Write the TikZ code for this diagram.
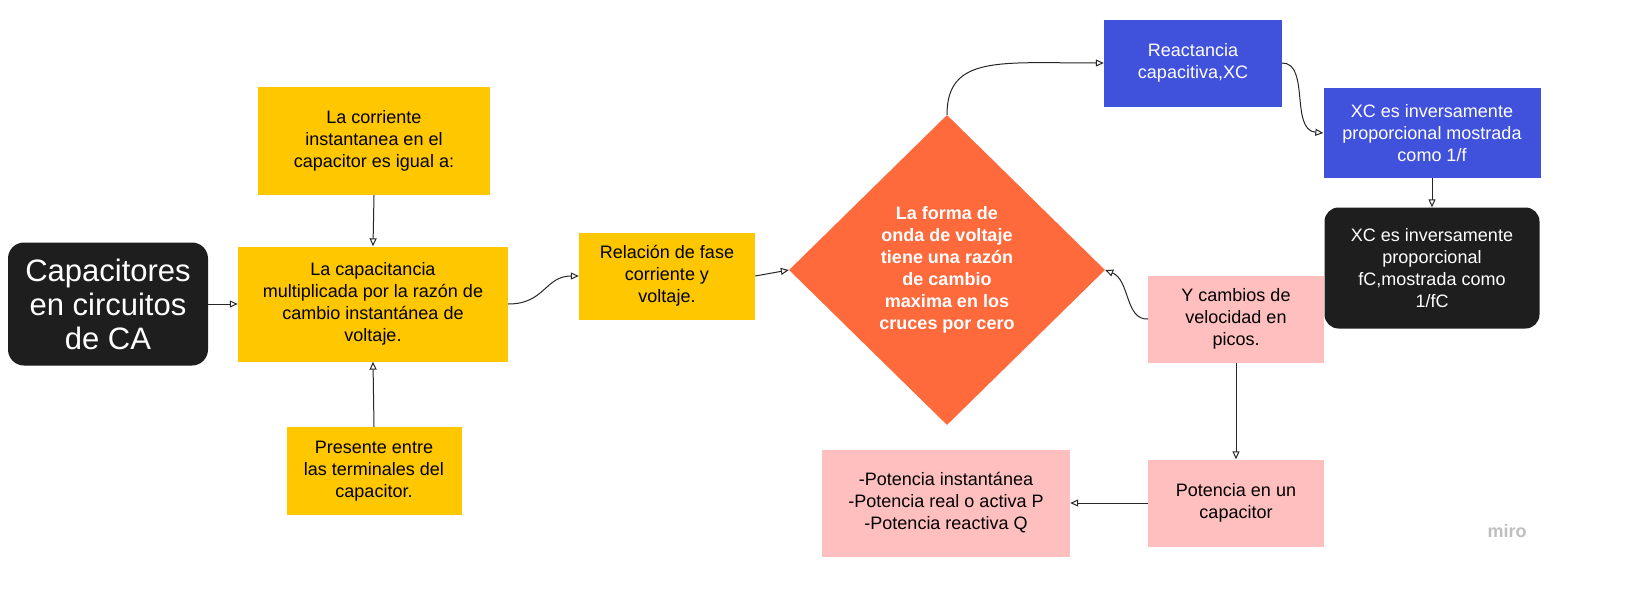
\documentclass[tikz,border=0pt]{standalone}
\usepackage{fontspec}
\setmainfont{Liberation Sans}
\usetikzlibrary{shapes.geometric,arrows.meta}
\definecolor{yel}{HTML}{FFC700}
\definecolor{org}{HTML}{FF6A3D}
\definecolor{blu}{HTML}{4051DB}
\definecolor{blk}{HTML}{1E1E1E}
\definecolor{pnk}{HTML}{FFBFBF}
\tikzset{
 box/.style={draw=none,align=center,inner sep=4pt,font=\fontsize{18}{22}\selectfont},
 ybox/.style={box,fill=yel},
 bbox/.style={box,fill=blu,text=white},
 pbox/.style={box,fill=pnk},
 kbox/.style={box,fill=blk,text=white,rounded corners=16pt},
 arr/.style={draw=black!85,line width=1pt,-{Stealth[length=8pt,width=7pt,inset=0pt,open]}}
}
\begin{document}
\begin{tikzpicture}[x=1pt,y=-1pt]
\fill[white] (0,0) rectangle (1650,605);
\node[kbox,minimum width=200,minimum height=123,font=\fontsize{31}{34}\selectfont] (cap) at (108,304) {Capacitores\\en circuitos\\de CA};
\node[ybox,minimum width=232,minimum height=108] (b1) at (374,141) {La corriente\\instantanea en el\\capacitor es igual a:};
\node[ybox,minimum width=270,minimum height=115] (b2) at (373,304) {La capacitancia\\multiplicada por la razón de\\cambio instantánea de\\voltaje.};
\node[ybox,minimum width=175,minimum height=88] (b3) at (374,471) {Presente entre\\las terminales del\\capacitor.};
\node[ybox,minimum width=176,minimum height=87] (b4) at (667,276) {Relación de fase\\corriente y\\voltaje.};
\node[fill=org,diamond,minimum width=316,minimum height=310,inner sep=0,text=white,font=\bfseries\fontsize{18}{22}\selectfont,align=center] (d) at (947,270) {La forma de\\onda de voltaje\\tiene una razón\\de cambio\\maxima en los\\cruces por cero};
\node[bbox,minimum width=178,minimum height=87] (r) at (1193,63) {Reactancia\\capacitiva,XC};
\node[bbox,minimum width=217,minimum height=90] (x1) at (1432,133) {XC es inversamente\\proporcional mostrada\\como 1/f};
\node[kbox,minimum width=215,minimum height=121,rounded corners=14pt] (x2) at (1432,268) {XC es inversamente\\proporcional\\fC,mostrada como\\1/fC};
\node[pbox,minimum width=176,minimum height=87] (p1) at (1236,319) {Y cambios de\\velocidad en\\picos.};
\node[pbox,minimum width=176,minimum height=87] (p2) at (1236,503) {Potencia en un\\capacitor};
\node[pbox,minimum width=248,minimum height=107] (p3) at (946,503) {-Potencia instantánea\\-Potencia real o activa P\\-Potencia reactiva Q};
\node[text=black!25,font=\bfseries\fontsize{18}{20}\selectfont] (m) at (1507,531) {miro};
\draw[arr] (cap.east) -- (b2.west);
\draw[arr] (b1.south) -- (b2.north);
\draw[arr] (b3.north) -- (b2.south);
\draw[arr] (b2.east) .. controls (545,304) and (545,276) .. (b4.west);
\draw[arr] (b4.east) -- (d.west);
\draw[arr] (d.north) .. controls (947,55) and (1000,63) .. (r.west);
\draw[arr] (r.east) .. controls (1310,63) and (1290,130) .. (x1.west);
\draw[arr] (x1.south) -- (x2.north);
\draw[arr] (p1.west) .. controls (1125,320) and (1130,280) .. (d.east);
\draw[arr] (p1.south) -- (p2.north);
\draw[arr] (p2.west) -- (p3.east);
\pgfresetboundingbox
\useasboundingbox (0,0) rectangle (1650,605);
\end{tikzpicture}
\end{document}
